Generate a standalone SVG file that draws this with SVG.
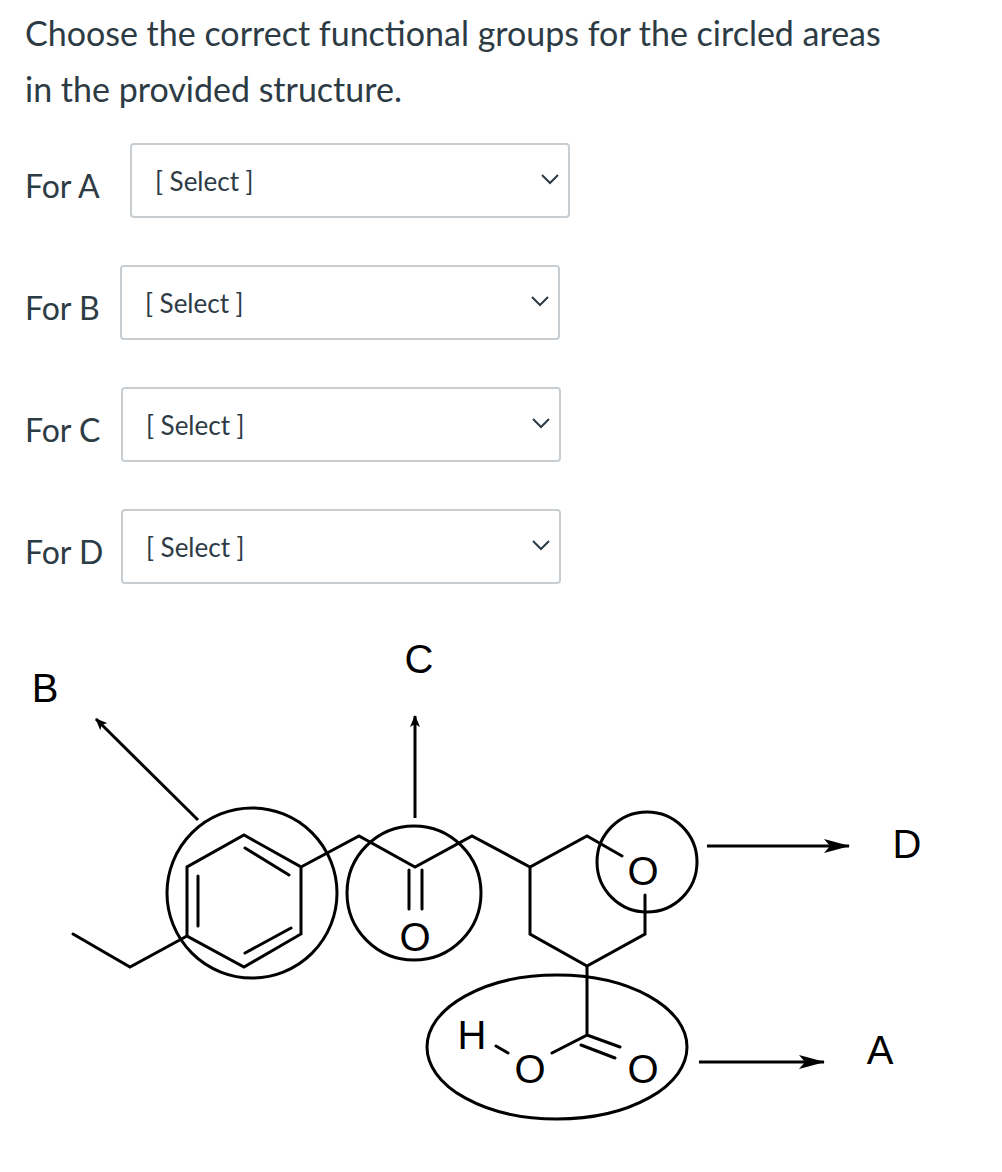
<svg xmlns="http://www.w3.org/2000/svg" width="1002" height="1172" viewBox="0 0 1002 1172">
<style>
.t{font-family:Lato,"Liberation Sans",sans-serif;fill:#2d3b45}
.q{font-size:34px}
.lb{font-size:32px}
.sel{font-size:26px}
.box{fill:#fff;stroke:#c7cdd1;stroke-width:2}
.chev{fill:none;stroke:#2d3b45;stroke-width:2}
.b{fill:none;stroke:#000;stroke-width:3;stroke-linecap:round;stroke-linejoin:miter}
.c{fill:none;stroke:#000;stroke-width:3}
.a{font-family:"Liberation Sans",Arial,sans-serif;font-size:40px;fill:#000;text-anchor:middle}
</style>
<defs><marker id="ah" markerWidth="12" markerHeight="10" refX="11" refY="5" orient="auto" markerUnits="userSpaceOnUse"><path d="M0,0 L12,5 L0,10 L3,5 z" fill="#000"/></marker>
<marker id="ah2" markerWidth="26" markerHeight="14" refX="25" refY="7" orient="auto" markerUnits="userSpaceOnUse"><path d="M0,0 L26,7 L0,14 L6,7 z" fill="#000"/></marker></defs>
<rect width="1002" height="1172" fill="#fff"/>
<g id="question">
<text class="t q" x="25" y="46">Choose the correct functional groups for the circled areas</text>
<text class="t q" x="25" y="102">in the provided structure.</text>
</g>
<g id="formA"><text class="t lb" x="25" y="198">For A</text><rect class="box" x="131" y="144" width="438" height="73" rx="3"/><text class="t sel" x="155" y="191">[ Select ]</text><path class="chev" d="M542,175 L550,183 L558,175"/></g>
<g id="formB"><text class="t lb" x="25" y="320">For B</text><rect class="box" x="121" y="266" width="438" height="73" rx="3"/><text class="t sel" x="145" y="313">[ Select ]</text><path class="chev" d="M532,297 L540,305 L548,297"/></g>
<g id="formC"><text class="t lb" x="25" y="442">For C</text><rect class="box" x="122" y="388" width="438" height="73" rx="3"/><text class="t sel" x="146" y="435">[ Select ]</text><path class="chev" d="M533,419 L541,427 L549,419"/></g>
<g id="formD"><text class="t lb" x="25" y="564">For D</text><rect class="box" x="122" y="510" width="438" height="73" rx="3"/><text class="t sel" x="146" y="557">[ Select ]</text><path class="chev" d="M533,541 L541,549 L549,541"/></g>
<g id="molecule">
<path class="b" d="M244,835 L301,867 L301,934 L244,967 L187,936 L187,867 Z"/>
<path class="b" d="M245,848 L289,875 M198,876 L198,926 M245,953 L291,928"/>
<path class="b" d="M187,936 L130,967 L73,934"/>
<path class="b" d="M301,867 L359,836 L415,867 L472,836 L530,867 L587,836 L622,856"/>
<path class="b" d="M409,870 L409,909 M422,870 L422,909"/>
<text class="a" x="415" y="951">O</text>
<text class="a" x="643" y="885">O</text>
<path class="b" d="M645,895 L645,934 L587,966 L530,934 L530,867"/>
<path class="b" d="M587,966 L587,1035 L552,1053 M587,1035 L620,1047 M581,1045 L615,1058 M496,1046 L508,1053"/>
<text class="a" x="472" y="1049">H</text>
<text class="a" x="530" y="1083">O</text>
<text class="a" x="643" y="1083">O</text>
</g>
<g id="circles">
<circle class="c" cx="252" cy="893" r="85"/>
<circle class="c" cx="414" cy="893" r="67"/>
<circle class="c" cx="647" cy="862" r="50"/>
<ellipse class="c" cx="557" cy="1047" rx="130" ry="72"/>
</g>
<g id="connectors">
<line class="c" x1="198" y1="820" x2="96" y2="719" marker-end="url(#ah)"/>
<line class="c" x1="415" y1="818" x2="415" y2="716" marker-end="url(#ah)"/>
<line class="c" x1="707" y1="846" x2="849" y2="846" marker-end="url(#ah2)"/>
<line class="c" x1="699" y1="1062" x2="824" y2="1062" marker-end="url(#ah2)"/>
</g>
<g id="labels">
<text class="a" x="45" y="702">B</text>
<text class="a" x="419" y="673">C</text>
<text class="a" x="907" y="858">D</text>
<text class="a" x="880" y="1064">A</text>
</g>
</svg>
